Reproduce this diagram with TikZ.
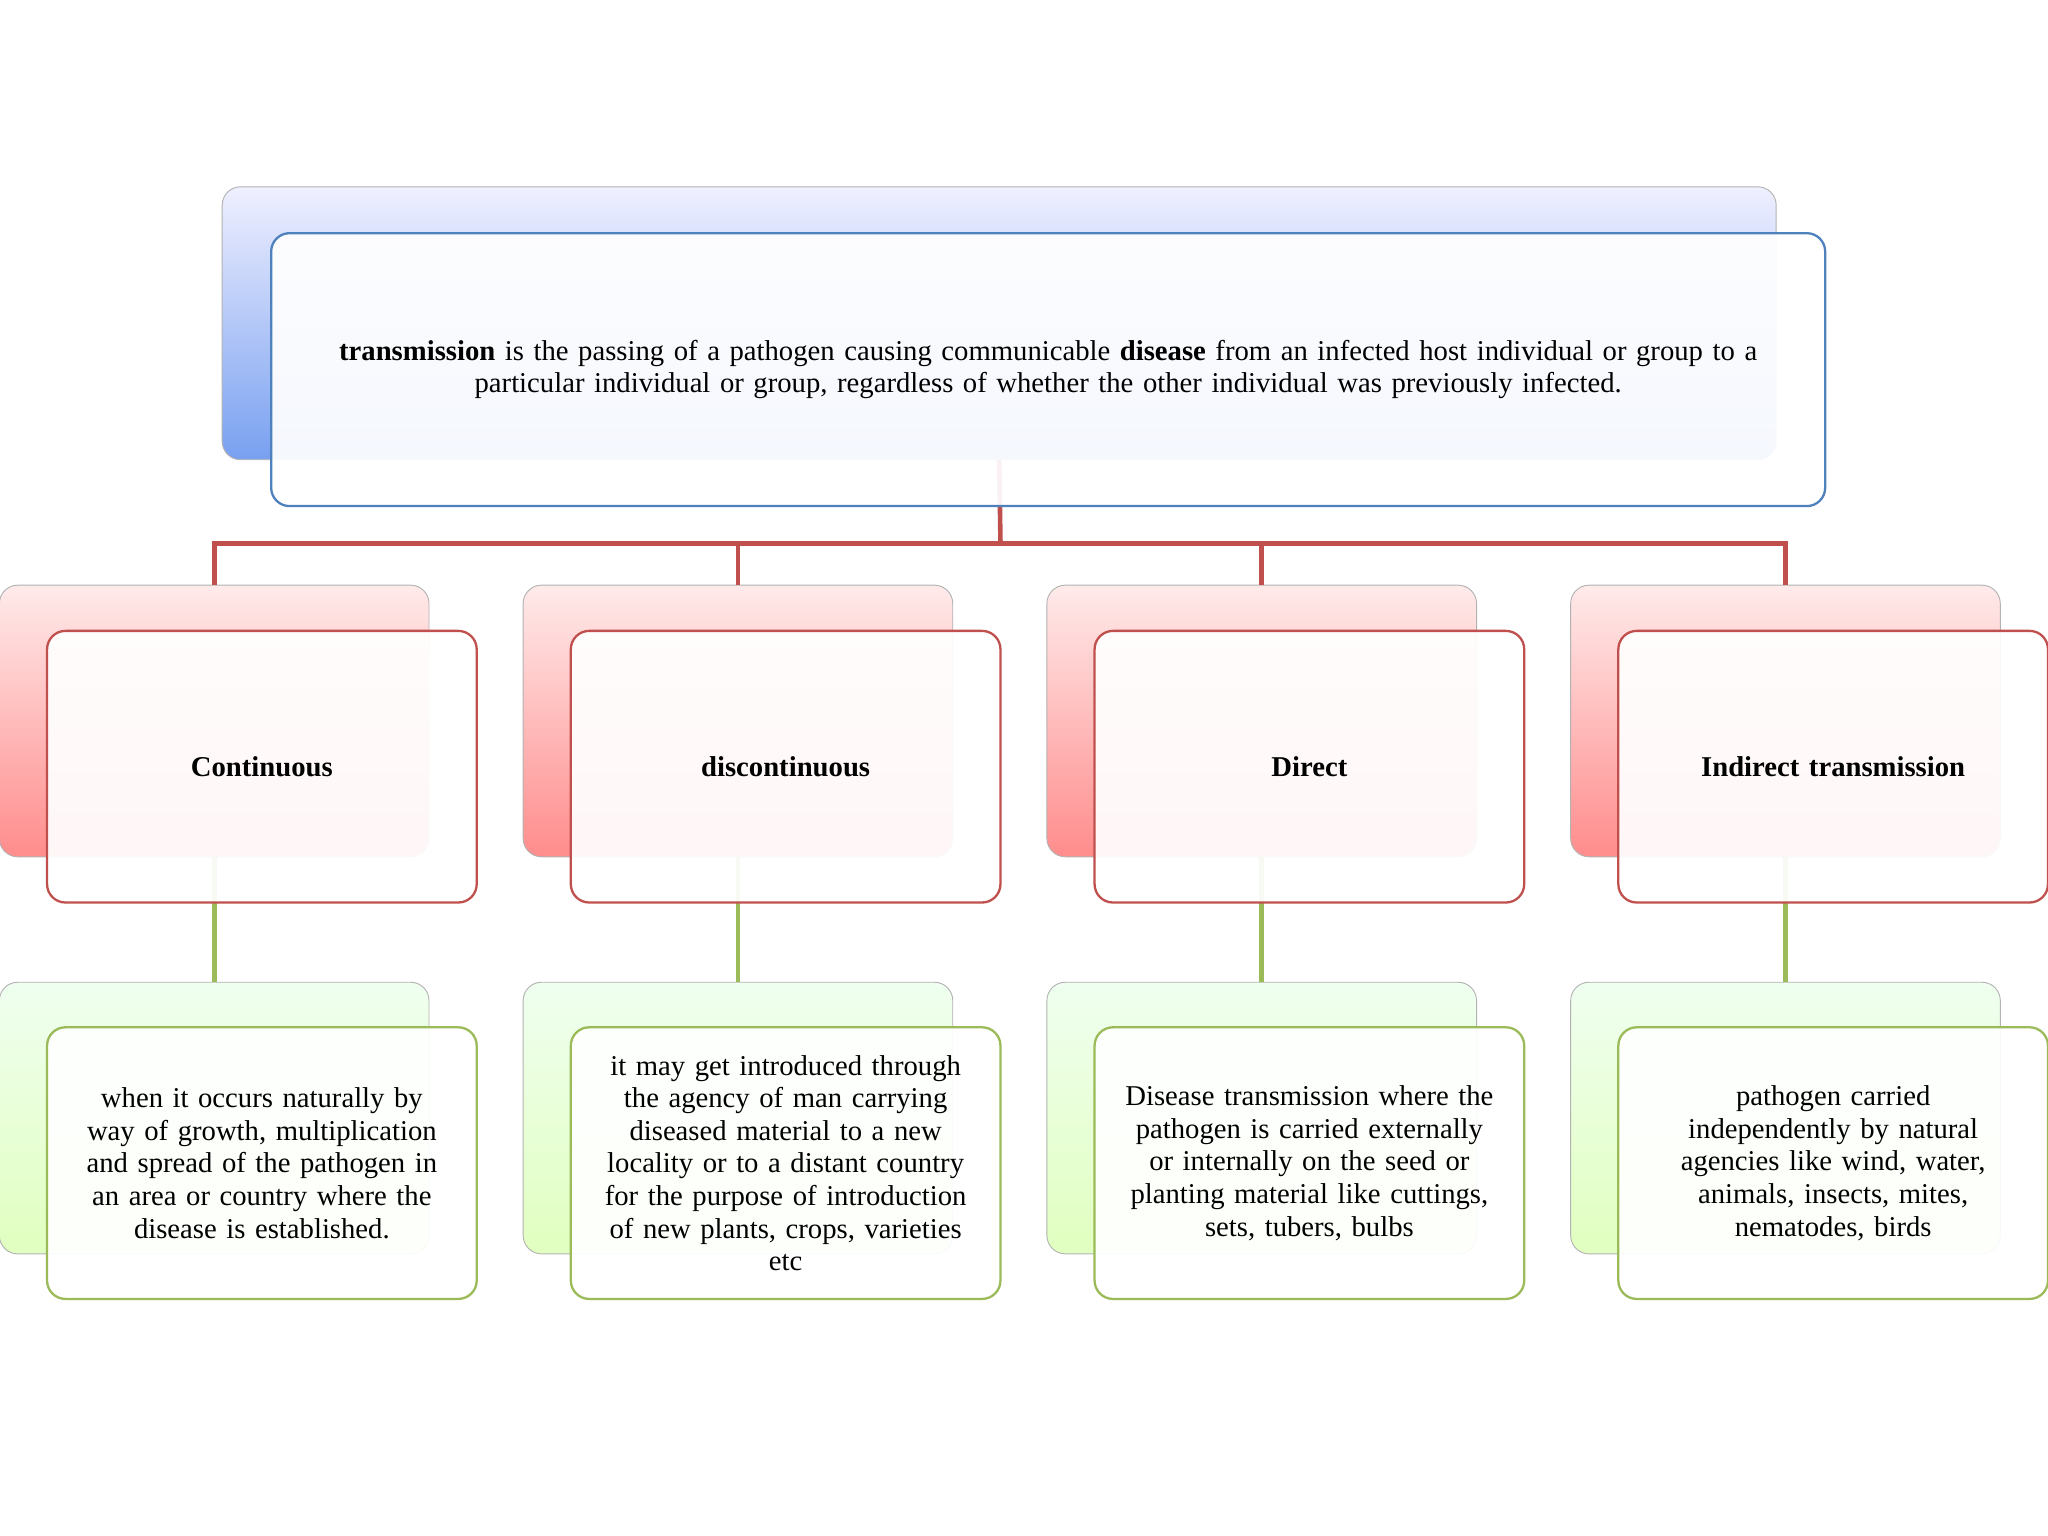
\documentclass[tikz,border=0pt]{standalone}
\usepackage{fontspec}
\setmainfont{Liberation Serif}
\usetikzlibrary{positioning}
\definecolor{topblue}{RGB}{79,129,189}
\definecolor{backblue}{RGB}{120,160,240}
\definecolor{redline}{RGB}{192,80,77}
\definecolor{greenline}{RGB}{155,187,89}
\begin{document}
\begin{tikzpicture}[x=0.02cm,y=-0.02cm,
    back box/.style={rectangle,rounded corners=8pt,draw=gray!60,minimum width=6.58cm,minimum height=4.16cm},
    front box/.style={rectangle,rounded corners=8pt,line width=1pt,fill=white,fill opacity=0.93,text opacity=1,inner xsep=1pt,
      minimum width=6.58cm,minimum height=4.16cm,text width=6.3cm,align=center,font=\fontsize{12.5}{14.2}\selectfont},
    red box/.style={back box,top color=red!8,bottom color=red!45},
    green box/.style={back box,top color=green!6,bottom color=green!30!lime!25},
    link/.style={line width=2pt}]
  \useasboundingbox (0,0) rectangle (1568,1176);
  % top box
  \node[back box,minimum width=23.8cm,minimum height=4.18cm,top color=blue!6,bottom color=backblue] (tb) at (765,247.5) {};
  \foreach \i/\x in {1/164,2/565,3/966,4/1367}{
    \node[red box] (rb\i) at (\x,552) {};
    \node[green box] (gb\i) at (\x,856) {};
    \draw[link,greenline] (rb\i.south) -- (gb\i.north);
  }
  \coordinate (split) at (766,416);
  \draw[link,redline] (tb.south) -- (split);
  \foreach \i in {1,...,4}
    \draw[link,redline] (split) -| (rb\i.north);
  \node[front box,draw=topblue,minimum width=23.8cm,minimum height=4.18cm,text width=23.4cm] (tf) at (802.5,283)
    {\textbf{transmission} is the passing of a pathogen causing communicable \textbf{disease} from an infected host individual or group to a\\ particular individual or group, regardless of whether the other individual was previously infected.};
  % second row
  \node[front box,draw=redline] (rf1) at (200.5,587) {\textbf{Continuous}};
  \node[front box,draw=redline] (rf2) at (601.5,587) {\textbf{discontinuous}};
  \node[front box,draw=redline] (rf3) at (1002.5,587) {\textbf{Direct}};
  \node[front box,draw=redline] (rf4) at (1403.5,587) {\textbf{Indirect transmission}};
  % third row
  \node[front box,draw=greenline] (gf1) at (200.5,890.5) {when it occurs naturally by\\ way of growth, multiplication\\ and spread of the pathogen in\\ an area or country where the\\ disease is established.};
  \node[front box,draw=greenline] (gf2) at (601.5,890.5) {it may get introduced through\\ the agency of man carrying\\ diseased material to a new\\ locality or to a distant country\\ for the purpose of introduction\\ of new plants, crops, varieties\\ etc};
  \node[front box,draw=greenline] (gf3) at (1002.5,890.5) {Disease transmission where the\\ pathogen is carried externally\\ or internally on the seed or\\ planting material like cuttings,\\ sets, tubers, bulbs};
  \node[front box,draw=greenline] (gf4) at (1403.5,890.5) {pathogen carried\\ independently by natural\\ agencies like wind, water,\\ animals, insects, mites,\\ nematodes, birds};
\end{tikzpicture}
\end{document}
